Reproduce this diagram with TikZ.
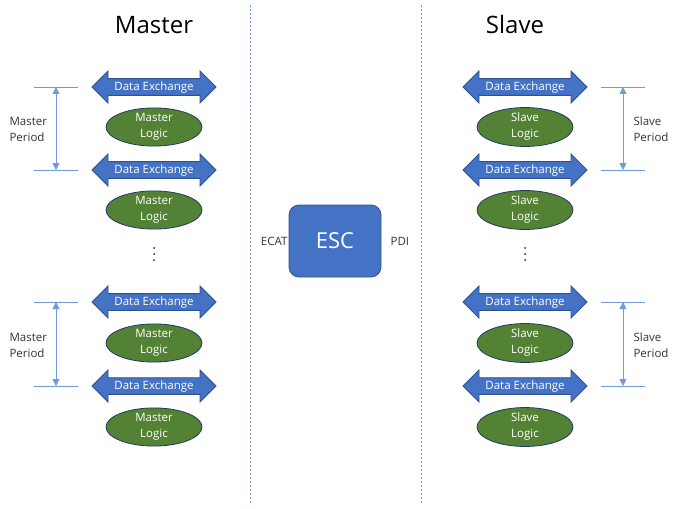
\documentclass[tikz,border=0pt]{standalone}
\usepackage{fontspec}
\setmainfont{Open Sans}
\usetikzlibrary{shapes.geometric,shapes.arrows,arrows.meta}
\definecolor{ablue}{HTML}{4472C4}
\definecolor{adark}{HTML}{2F528F}
\definecolor{lgreen}{HTML}{548235}
\definecolor{pblue}{HTML}{6F9BD8}
\begin{document}
\begin{tikzpicture}[x=1pt,y=-1pt,
  dx/.style={shape=double arrow,fill=ablue,draw=adark,line width=0.8pt,minimum height=124pt,minimum width=32pt,double arrow head extend=7pt,inner xsep=0pt,inner ysep=1.5pt,text=white,font=\fontsize{11.5}{13}\selectfont,text height=9pt,text depth=2.5pt},
  lg/.style={ellipse,fill=lgreen,draw=adark!70!black,line width=0.8pt,minimum width=96pt,minimum height=38pt,inner sep=0pt,text=white,align=center,font=\fontsize{11.5}{16}\selectfont},
  lbl/.style={font=\fontsize{11.5}{16}\selectfont,align=left,text=black!80},
  per/.style={draw=pblue,line width=0.8pt},
  pa/.style={per,{Triangle[length=7pt,width=7pt]}-{Triangle[length=7pt,width=7pt]}},
  dt/.style={circle,fill=black!85,inner sep=0pt,minimum size=2pt},
  dv/.style={draw=pblue,dashed,dash pattern=on 2pt off 2pt,line width=0.7pt}]
\useasboundingbox (0,0) rectangle (692,508);
\coordinate (d1a) at (250,5); \coordinate (d1b) at (250,505);
\coordinate (d2a) at (421,5); \coordinate (d2b) at (421,505);
\draw[dv] (d1a)--(d1b); \draw[dv] (d2a)--(d2b);
\node[font=\fontsize{24}{28}\selectfont] (tm) at (154,25) {Master};
\node[font=\fontsize{24}{28}\selectfont] (ts) at (515,25) {Slave};
\foreach \n/\y in {1/87,2/170,3/302,4/386}{
  \node[dx] (L\n) at (154,\y) {Data Exchange};
  \node[dx] (R\n) at (525,\y) {Data Exchange};
}
\foreach \n/\y in {1/127,2/210,3/343,4/427}{
  \node[lg] (ML\n) at (154,\y) {Master\\Logic};
  \node[lg] (SL\n) at (525,\y) {Slave\\Logic};
}
\foreach \x/\s in {154/l,525/r}{
  \node[dt] (\s a) at (\x,248) {};
  \node[dt] (\s b) at (\x,254) {};
  \node[dt] (\s c) at (\x,260) {};
}
\foreach \i/\a/\b in {1/87/170,2/302/386}{
  \coordinate (la\i) at (34,\a); \coordinate (lb\i) at (78,\a);
  \coordinate (lc\i) at (34,\b); \coordinate (ld\i) at (78,\b);
  \coordinate (lt\i) at (56,\a); \coordinate (lu\i) at (56,\b);
  \draw[per] (la\i)--(lb\i); \draw[per] (lc\i)--(ld\i); \draw[pa] (lt\i)--(lu\i);
  \coordinate (ra\i) at (601,\a); \coordinate (rb\i) at (645,\a);
  \coordinate (rc\i) at (601,\b); \coordinate (rd\i) at (645,\b);
  \coordinate (rt\i) at (623,\a); \coordinate (ru\i) at (623,\b);
  \draw[per] (ra\i)--(rb\i); \draw[per] (rc\i)--(rd\i); \draw[pa] (rt\i)--(ru\i);
}
\node[lbl,anchor=west] (mp1) at (6,129) {Master\\Period};
\node[lbl,anchor=west] (mp2) at (6,345) {Master\\Period};
\node[lbl,anchor=west] (sp1) at (630,129) {Slave\\Period};
\node[lbl,anchor=west] (sp2) at (630,345) {Slave\\Period};
\node[draw=adark,fill=ablue,line width=0.8pt,rounded corners=10pt,minimum width=92pt,minimum height=72pt,text=white,font=\fontsize{22}{26}\selectfont] (esc) at (335,241) {ESC};
\node[lbl,anchor=east,inner sep=1pt] (ecat) at (esc.west) {ECAT};
\node[lbl,anchor=west,inner sep=1pt] (pdi) at ([xshift=8pt]esc.east) {PDI};
\end{tikzpicture}
\end{document}
